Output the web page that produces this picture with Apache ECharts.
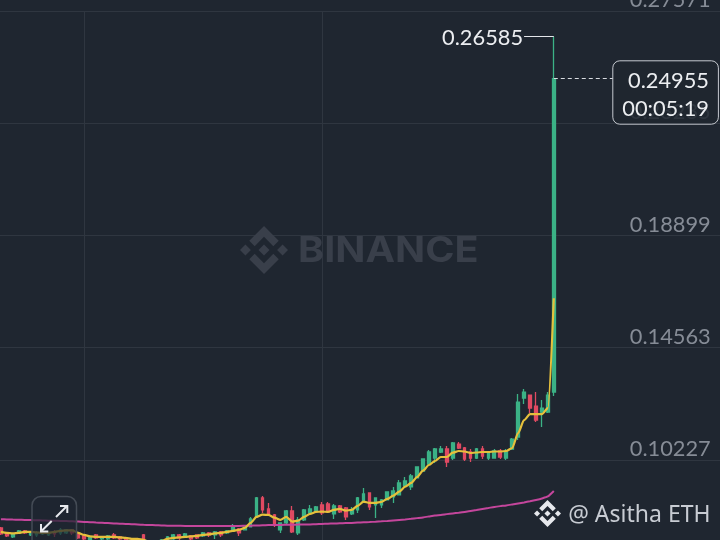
<!DOCTYPE html>
<html><head><meta charset="utf-8">
<style>html,body{margin:0;padding:0;background:#1f2630}#c{width:720px;height:540px}</style>
<script src="https://cdn.jsdelivr.net/npm/echarts@6/dist/echarts.min.js"></script>
</head><body><div id="c"></div>
<script>
const opens=[.07604,.07411,.07256,.07411,.07488,.07334,.07334,.07372,.07334,.07449,.07411,.07411,.07526,.07372,.07295,.07141,.07334,.07179,.07179,.07334,.07256,.07218,.07141,.07141,.07334,.06948,.06987,.07025,.07141,.07179,.07334,.07256,.07295,.07334,.07295,.07411,.07334,.07449,.07411,.07488,.07565,.07526,.07642,.08028,.08761,.08337,.08105,.07526,.07797,.08260,.07411,.07912,.08182,.08260,.08491,.08530,.08144,.08452,.08375,.08144,.08298,.08607,.08954,.08491,.08491,.08684,.08800,.08877,.09224,.09186,.09533,.09803,.10073,.10304,.10536,.10651,.10304,.10844,.10690,.10536,.10304,.10651,.10304,.10304,.10574,.10304,.10651,.11114,.12619,.12735,.12310,.12079,.12079,.12850];
const closes=[.07372,.07295,.07372,.07488,.07411,.07411,.07411,.07449,.07411,.07372,.07526,.07526,.07411,.07218,.07179,.07256,.07218,.07256,.07295,.07218,.07179,.07141,.07025,.07025,.07141,.07064,.07102,.07141,.07256,.07334,.07218,.07372,.07179,.07218,.07411,.07334,.07449,.07334,.07488,.07681,.07411,.07642,.07951,.08761,.08298,.08105,.07719,.07797,.08260,.07449,.07912,.08298,.08337,.08414,.08182,.08221,.08452,.08221,.08028,.08298,.08761,.08915,.08414,.08761,.08684,.08993,.09031,.09340,.09417,.09610,.09957,.10266,.10536,.10651,.10651,.10150,.10883,.10690,.10266,.10304,.10651,.10381,.10497,.10574,.10343,.10536,.11037,.12465,.12850,.12233,.11770,.12233,.12735,.24955];
const lows=[.07334,.07256,.07218,.07372,.07372,.07295,.07256,.07334,.07295,.07256,.07334,.07372,.07334,.07179,.07141,.07102,.07179,.07141,.07141,.07179,.07141,.07102,.06987,.06987,.07102,.06910,.06948,.06987,.07102,.07141,.07141,.07218,.07141,.07179,.07256,.07256,.07179,.07256,.07372,.07449,.07295,.07526,.07642,.07989,.08182,.08105,.07642,.07411,.07758,.07411,.07334,.07874,.08144,.08221,.08105,.08182,.07951,.08182,.07912,.08105,.08182,.08568,.08298,.07989,.08375,.08684,.08568,.08877,.09147,.09070,.09533,.09803,.10073,.10111,.10497,.09957,.10227,.10651,.10189,.10150,.10266,.10266,.10227,.10304,.10266,.10227,.10613,.10999,.12388,.12040,.11693,.11500,.12040,.12696];
const highs=[.07642,.07449,.07411,.07526,.07526,.07449,.07488,.07488,.07449,.07526,.07604,.07565,.07565,.07411,.07334,.07295,.07372,.07295,.07334,.07411,.07295,.07256,.07179,.07179,.07372,.07102,.07141,.07179,.07295,.07372,.07372,.07411,.07334,.07334,.07449,.07449,.07488,.07488,.07526,.07758,.07604,.07642,.08028,.08800,.08838,.08568,.08144,.07797,.08298,.08452,.08028,.08337,.08491,.08452,.08607,.08607,.08530,.08491,.08414,.08414,.08800,.09147,.08954,.08761,.08723,.08993,.09186,.09456,.09571,.09687,.09957,.10266,.10613,.10690,.10767,.10767,.10921,.10921,.10729,.10651,.10690,.10767,.10536,.10651,.10651,.10651,.11076,.12773,.12966,.12735,.12850,.12542,.12850,.26585];
const maYellow=[.07449,.07411,.07391,.07411,.07449,.07449,.07430,.07411,.07411,.07449,.07488,.07507,.07507,.07411,.07334,.07276,.07256,.07256,.07256,.07256,.07237,.07218,.07179,.07179,.07141,.07064,.07064,.07102,.07179,.07218,.07237,.07256,.07276,.07295,.07334,.07353,.07391,.07411,.07449,.07488,.07526,.07604,.07797,.08028,.08117,.08105,.08001,.07912,.08028,.07847,.07885,.08028,.08144,.08221,.08233,.08221,.08298,.08337,.08271,.08298,.08452,.08618,.08568,.08568,.08607,.08723,.08850,.09004,.09197,.09340,.09571,.09814,.10034,.10189,.10343,.10343,.10509,.10574,.10555,.10497,.10516,.10536,.10536,.10555,.10555,.10574,.10690,.11269,.11770,.12002,.12002,.12002,.12233,.16477];
const maPink=[.07939,.07932,.07924,.07920,.07912,.07905,.07897,.07893,.07885,.07878,.07874,.07866,.07858,.07847,.07835,.07824,.07812,.07801,.07789,.07777,.07766,.07758,.07747,.07735,.07723,.07716,.07708,.07700,.07692,.07689,.07685,.07681,.07681,.07677,.07677,.07677,.07677,.07677,.07681,.07681,.07681,.07685,.07689,.07696,.07704,.07712,.07719,.07719,.07723,.07727,.07731,.07735,.07739,.07747,.07758,.07766,.07773,.07781,.07789,.07797,.07808,.07820,.07831,.07843,.07858,.07874,.07893,.07912,.07932,.07955,.07982,.08009,.08047,.08086,.08105,.08136,.08163,.08190,.08221,.08260,.08298,.08337,.08375,.08414,.08445,.08472,.08510,.08549,.08588,.08634,.08684,.08742,.08819,.09031];
const priceTicks=[.05891,.10227,.14563,.18899,.23235,.27571];
const highValue=.26585, lastValue=.24955, countdown='00:05:19';
const slots=Array.from({length:122},(_,i)=>String(i));
const logoShapes=[
 [[38.73,53.2],[63.32,28.62],[87.92,53.22],[102.22,38.91],[63.32,0],[24.43,38.89]],
 [[0,63.31],[14.3,49],[28.61,63.31],[14.3,77.61]],
 [[38.73,73.41],[63.32,98],[87.92,73.4],[102.23,87.69],[63.33,126.6],[24.42,87.72]],
 [[98,63.31],[112.3,49],[126.61,63.3],[112.3,77.62]],
 [[77.83,63.3],[63.32,48.78],[48.81,63.28],[63.32,77.78]]];
const logo=(x,y,size,fill,z)=>({type:'group',x,y,scaleX:size/126.61,scaleY:size/126.61,
  children:logoShapes.map(p=>({type:'polygon',z,shape:{points:p},style:{fill}}))});
const FONT='Lato';
const FS=21.8;
const chart=echarts.init(document.getElementById('c'),null,{renderer:'canvas'});
const arrow=pts=>({type:'polyline',z:21,shape:{points:pts},style:{stroke:'#e8eaee',lineWidth:2,fill:null}});
chart.setOption({
 animation:false,backgroundColor:'#1f2630',
 grid:{left:-2.07,width:725.3,top:11,height:561.25,containLabel:false,outerBoundsMode:'none'},
 xAxis:{type:'category',data:slots,boundaryGap:true,axisLine:{show:false},axisLabel:{show:false},
  axisTick:{show:false,alignWithLabel:true,interval:(i)=>i===14||i===54},
  splitLine:{show:true,alignWithLabel:true,interval:(i)=>i===14||i===54,lineStyle:{color:'#2f3640',width:1}}},
 yAxis:{type:'value',position:'right',min:.05891,max:.27571,
  axisLine:{show:false},
  axisTick:{show:false,customValues:priceTicks},
  splitLine:{show:true,lineStyle:{color:'#2f3640',width:1}},
  axisLabel:{inside:true,margin:12.5,customValues:priceTicks,formatter:v=>v.toFixed(5),color:'#868c96',fontFamily:FONT,fontSize:FS,verticalAlign:'bottom',align:'right',showMinLabel:true,showMaxLabel:true}},
 series:[
  {type:'candlestick',barWidth:3.2,z:3,data:opens.map((o,i)=>[o,closes[i],lows[i],highs[i]]),
   itemStyle:{color:'#3bb286',color0:'#e04a62',borderColor:'#3bb286',borderColor0:'#e04a62',borderWidth:1.3},
   markLine:{silent:true,symbol:'none',animation:false,precision:5,
    data:[
     [{coord:['88',highValue],lineStyle:{color:'#e4e6ea',type:'solid',width:1},label:{show:true,position:'start',offset:[0,1.5],formatter:highValue.toFixed(5),color:'#eceef1',fontFamily:FONT,fontSize:FS,distance:1}},{coord:['93',highValue]}],
     [{coord:['93',lastValue],lineStyle:{color:'#d8dbe0',type:[4,3],width:1},label:{show:false}},{coord:['103',lastValue]}]
    ]}},
  {type:'line',data:maPink,z:4,symbol:'none',smooth:.2,lineStyle:{color:'#c4469c',width:2}},
  {type:'line',data:maYellow,z:5,symbol:'none',smooth:.25,smoothMonotone:'x',lineStyle:{color:'#e6c03c',width:2.2}}
 ],
 graphic:[
  logo(240,226,48,'#393f4a',1),
  {type:'text',z:1,x:298,y:251.5,scaleX:1.1,style:{text:'BINANCE',fill:'#393f4a',font:'700 36px Inter',textVerticalAlign:'middle'}},
  {type:'rect',z:20,shape:{x:32,y:496.5,width:44.5,height:60,r:9},style:{fill:'rgba(31,38,48,0.72)',stroke:'#444b55',lineWidth:1.5}},
  arrow([[56,517],[67,506]]),arrow([[60,506],[67.3,506],[67.3,513]]),
  arrow([[51.7,521],[41,531.5]]),arrow([[41,524],[41,531.5],[48.3,531.5]]),
  {type:'rect',z:20,shape:{x:612.8,y:60.8,width:105.6,height:63.4,r:7},style:{fill:'rgba(31,38,48,0.86)',stroke:'#c5c9cf',lineWidth:1}},
  {type:'text',z:21,x:709,y:80.5,style:{text:lastValue.toFixed(5),fill:'#eceef1',font:'400 21.8px Lato',textAlign:'right',textVerticalAlign:'middle'}},
  {type:'text',z:21,x:709,y:108.5,style:{text:countdown,fill:'#eceef1',font:'400 21.8px Lato',textAlign:'right',textVerticalAlign:'middle'}},
  logo(534,500,27,'#e6e8ec',21),
  {type:'text',z:21,x:710.5,y:515,style:{text:'@ Asitha ETH',fill:'#c8ccd3',font:'400 23px "Noto Sans"',textAlign:'right',textVerticalAlign:'middle'}}
 ]
});
</script></body></html>
